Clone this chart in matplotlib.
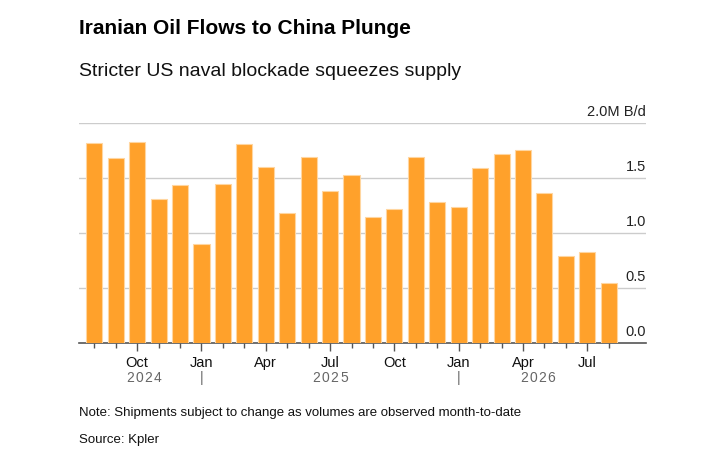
import matplotlib
matplotlib.use("Agg")
import matplotlib.pyplot as plt
import matplotlib.transforms as mtransforms

# ----- Data (M barrels/day, Aug 2024 - Aug 2026) -----
months = ["Aug", "Sep", "Oct", "Nov", "Dec",
          "Jan", "Feb", "Mar", "Apr", "May", "Jun", "Jul", "Aug", "Sep", "Oct", "Nov", "Dec",
          "Jan", "Feb", "Mar", "Apr", "May", "Jun", "Jul", "Aug"]
flows = [1.82, 1.68, 1.83, 1.31, 1.44, 0.90, 1.45, 1.81, 1.60, 1.18, 1.69, 1.38, 1.53,
         1.15, 1.22, 1.69, 1.28, 1.24, 1.59, 1.72, 1.76, 1.37, 0.79, 0.83, 0.55]
years = ["2024", "2025", "2026"]
month_labels = ["Oct", "Jan", "Apr", "Jul"]
y_ticks = [0.0, 0.5, 1.0, 1.5, 2.0]
y_labels = ["0.0", "0.5", "1.0", "1.5", "2.0M B/d"]
# ------------------------------------------------------

BAR_COLOR = "#ffa12b"
EDGE_COLOR = "#ffd6a0"
GRID_COLOR = "#cccccc"
AXIS_COLOR = "#555555"
YEAR_COLOR = "#666666"

plt.rcParams["font.family"] = ["Liberation Sans", "DejaVu Sans"]

fig = plt.figure(figsize=(7.23, 4.56), dpi=100)
ax = fig.add_axes([79 / 723, 1 - 344 / 456, (646 - 79) / 723, (344 - 124.3) / 456])

x = list(range(len(flows)))
bar_w = 0.75
ax.bar(x, flows, width=bar_w, color=BAR_COLOR, edgecolor=EDGE_COLOR, linewidth=0.8, zorder=3)

ax.set_xlim(-0.714, 25.74)
ax.set_ylim(0, 2.0)

# gridlines and right-side labels sitting on top of them
for v, lab in zip(y_ticks, y_labels):
    if v > 0:
        ax.axhline(v, color=GRID_COLOR, linewidth=1.0, zorder=1)
    off = mtransforms.offset_copy(ax.get_yaxis_transform(), fig=fig, x=0, y=3.5, units="points")
    ax.text(1.0, v, lab, transform=off, ha="right", va="bottom", fontsize=10.5, color="#222222")

for s in ["top", "right", "left"]:
    ax.spines[s].set_visible(False)
ax.spines["bottom"].set_color(AXIS_COLOR)
ax.spines["bottom"].set_linewidth(1.2)
ax.set_yticks([])

# month ticks: minor at every bar, major (labelled) at quarter months
major_idx = [i for i, m in enumerate(months) if m in month_labels]
minor_idx = [i for i in x if i not in major_idx]
ax.set_xticks(major_idx)
ax.set_xticklabels([months[i] for i in major_idx], fontsize=10.5, color="#111111")
ax.set_xticks(minor_idx, minor=True)
ax.tick_params(axis="x", which="major", length=6, width=1, color=AXIS_COLOR, pad=2.5)
ax.tick_params(axis="x", which="minor", length=3.5, width=1, color=AXIS_COLOR)

# year labels, centred on each year's span of bars, drawn letter-spaced
jan_idx = [i for i, m in enumerate(months) if m == "Jan"]
bounds = [-bar_w / 2] + jan_idx + [len(flows) - 1 + bar_w / 2]
trans = ax.get_xaxis_transform()
pitch = 9.2  # px between year digits
for k, yr in enumerate(years):
    cx = (bounds[k] + bounds[k + 1]) / 2
    for n, ch in enumerate(yr):
        dx = (n - (len(yr) - 1) / 2) * pitch
        t = mtransforms.offset_copy(trans, fig=fig, x=dx, y=0, units="dots")
        ax.text(cx, -0.155, ch, transform=t, ha="center", va="center",
                fontsize=10, color=YEAR_COLOR)
for j in jan_idx:
    ax.text(j, -0.155, "|", transform=trans, ha="center", va="center",
            fontsize=10, color=YEAR_COLOR)

fig.text(79 / 723, 1 - 28 / 456, "Iranian Oil Flows to China Plunge",
         fontsize=15, fontweight="bold", ha="left", va="center", color="#000000")
fig.text(79 / 723, 1 - 72 / 456, "Stricter US naval blockade squeezes supply",
         fontsize=14, ha="left", va="center", color="#111111")
fig.text(79 / 723, 1 - 413 / 456, "Note: Shipments subject to change as volumes are observed month-to-date",
         fontsize=9.5, ha="left", va="center", color="#111111")
fig.text(79 / 723, 1 - 440 / 456, "Source: Kpler",
         fontsize=9.5, ha="left", va="center", color="#111111")

fig.savefig("out.png", dpi=100)
